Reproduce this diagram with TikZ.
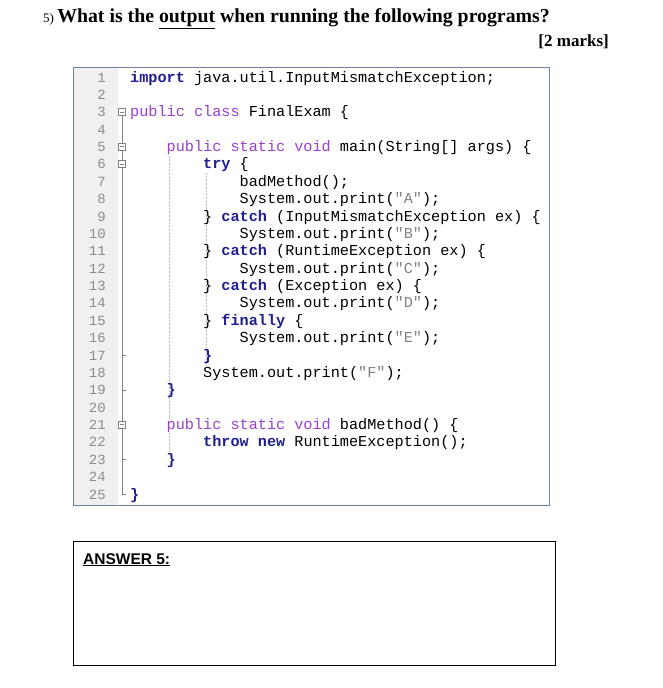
\documentclass[tikz,border=0pt]{standalone}
\usepackage{fontspec}
\setmainfont{Liberation Serif}
\setsansfont{Liberation Sans}
\setmonofont{Liberation Mono}
\definecolor{kwc}{HTML}{1F1F8F}
\definecolor{puc}{HTML}{9A3FD0}
\definecolor{stc}{HTML}{808080}
\definecolor{numc}{HTML}{8C8C8C}
\newcommand{\kw}[1]{\textcolor{kwc}{\bfseries #1}}
\newcommand{\pu}[1]{\textcolor{puc}{#1}}
\newcommand{\str}[1]{\textcolor{stc}{#1}}
\begin{document}
\begin{tikzpicture}[x=1pt,y=-1pt,
  code/.style={anchor=base west,inner sep=0,font=\ttfamily\fontsize{15.2}{16}\selectfont},
  num/.style={anchor=base east,inner sep=0,text=numc,font=\ttfamily\fontsize{14}{16}\selectfont},
  fold/.style={draw=gray,line width=0.5pt,fill=white,minimum size=7pt,inner sep=0}]
\useasboundingbox (0,0) rectangle (663,688);
\node[anchor=base west,inner sep=0,font=\fontsize{13}{15}\selectfont] (q) at (43,23) {5)\ \textbf{\fontsize{19.8}{21}\selectfont What is the \underline{output} when running the following programs?}};
\node[anchor=base east,inner sep=0,font=\bfseries\fontsize{17}{19}\selectfont] (m) at (609,46) {[2 marks]};
\fill[gray!12] (74,68) rectangle (118,505);
\draw[color={rgb,255:red,110;green,130;blue,160},line width=0.8pt] (73,67) rectangle (549,505);
\foreach \i in {1,...,25} {\node[num] (n\i) at (106,{82+(\i-1)*17.375}) {\i};}
\draw[gray,line width=0.5pt] (122,112) -- (122,494) -- (126,494);
\foreach \i in {17,19,23} {\draw[gray,line width=0.5pt] (122,{77+(\i-1)*17.375}) -- (126,{77+(\i-1)*17.375});}
\foreach \i in {3,5,6,21} {\node[fold] (f\i) at (122,{77+(\i-1)*17.375}) {}; \draw[gray,line width=0.5pt] (120,{77+(\i-1)*17.375}) -- (124,{77+(\i-1)*17.375});}
\draw[gray!50,densely dotted] (169,156) -- (169,418);
\draw[gray!50,densely dotted] (206,173) -- (206,365);
\draw[gray!50,densely dotted] (169,433) -- (169,452);
\def\L#1#2{\node[code] (c#1) at (130,{82+(#1-1)*17.375}) {#2};}
\L{1}{\kw{import} java.util.InputMismatchException;}
\L{3}{\pu{public class} FinalExam \{}
\L{5}{\ \ \ \ \pu{public static void} main(String[] args) \{}
\L{6}{\ \ \ \ \ \ \ \ \kw{try} \{}
\L{7}{\ \ \ \ \ \ \ \ \ \ \ \ badMethod();}
\L{8}{\ \ \ \ \ \ \ \ \ \ \ \ System.out.print(\str{"A"});}
\L{9}{\ \ \ \ \ \ \ \ \} \kw{catch} (InputMismatchException ex) \{}
\L{10}{\ \ \ \ \ \ \ \ \ \ \ \ System.out.print(\str{"B"});}
\L{11}{\ \ \ \ \ \ \ \ \} \kw{catch} (RuntimeException ex) \{}
\L{12}{\ \ \ \ \ \ \ \ \ \ \ \ System.out.print(\str{"C"});}
\L{13}{\ \ \ \ \ \ \ \ \} \kw{catch} (Exception ex) \{}
\L{14}{\ \ \ \ \ \ \ \ \ \ \ \ System.out.print(\str{"D"});}
\L{15}{\ \ \ \ \ \ \ \ \} \kw{finally} \{}
\L{16}{\ \ \ \ \ \ \ \ \ \ \ \ System.out.print(\str{"E"});}
\L{17}{\ \ \ \ \ \ \ \ \kw{\}}}
\L{18}{\ \ \ \ \ \ \ \ System.out.print(\str{"F"});}
\L{19}{\ \ \ \ \kw{\}}}
\L{21}{\ \ \ \ \pu{public static void} badMethod() \{}
\L{22}{\ \ \ \ \ \ \ \ \kw{throw} \kw{new} RuntimeException();}
\L{23}{\ \ \ \ \kw{\}}}
\L{25}{\kw{\}}}
\draw[line width=0.8pt] (73,541) rectangle (555,665);
\node[anchor=base west,inner sep=0,font=\sffamily\bfseries\fontsize{15.5}{17}\selectfont] (a) at (83,564) {\underline{ANSWER 5:}};
\end{tikzpicture}
\end{document}
